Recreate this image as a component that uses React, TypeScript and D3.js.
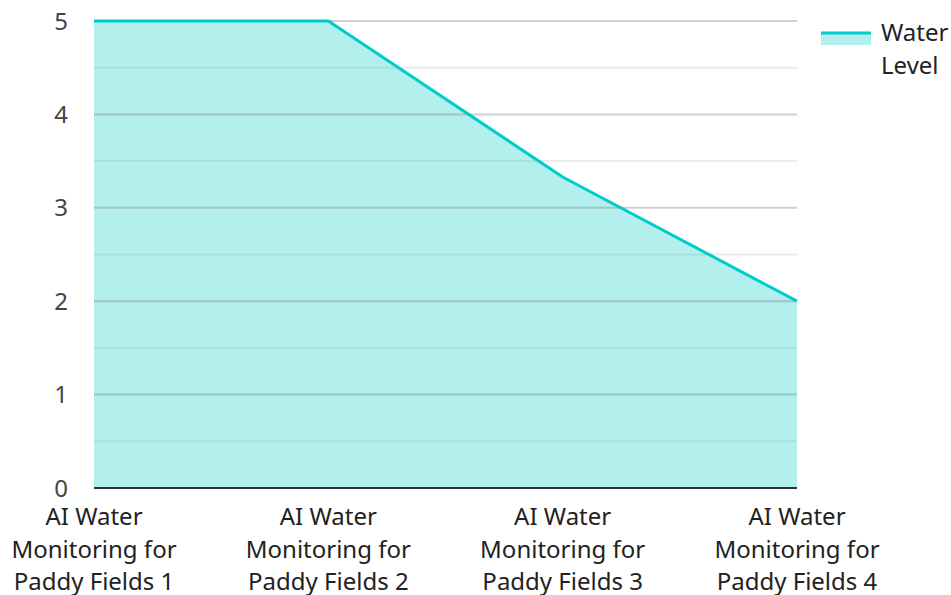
import React from "react";
import * as d3 from "d3";

const categories = [
  "AI Water Monitoring for Paddy Fields 1",
  "AI Water Monitoring for Paddy Fields 2",
  "AI Water Monitoring for Paddy Fields 3",
  "AI Water Monitoring for Paddy Fields 4",
];
const categoryLines = [
  ["AI Water", "Monitoring for", "Paddy Fields 1"],
  ["AI Water", "Monitoring for", "Paddy Fields 2"],
  ["AI Water", "Monitoring for", "Paddy Fields 3"],
  ["AI Water", "Monitoring for", "Paddy Fields 4"],
];
const waterLevel = [5, 5, 3.33, 2];
const yTicks = [0, 1, 2, 3, 4, 5];
const yMinorTicks = [0.5, 1.5, 2.5, 3.5, 4.5];
const seriesName = ["Water", "Level"];

const W = 951;
const H = 595;
const left = 94;
const right = 797;
const top = 21;
const bottom = 488;
const font = "'Noto Sans', 'Open Sans', sans-serif";

export default function App() {
  const x = d3.scalePoint<string>().domain(categories).range([left, right]);
  const y = d3.scaleLinear().domain([0, 5]).range([bottom, top]);
  const pts = categories.map((c, i) => ({ c, v: waterLevel[i] }));
  const area = d3
    .area<{ c: string; v: number }>()
    .x((d) => x(d.c)!)
    .y0(y(0))
    .y1((d) => y(d.v));
  const line = d3
    .line<{ c: string; v: number }>()
    .x((d) => x(d.c)!)
    .y((d) => y(d.v));

  return (
    <svg
      width={W}
      height={H}
      style={{ position: "absolute", left: 0, top: 0, background: "#fff" }}
      fontFamily={font}
    >
      <path d={area(pts)!} fill="#b2efed" />
      {yMinorTicks.map((t) => (
        <line key={"m" + t} x1={left} x2={right} y1={y(t)} y2={y(t)} stroke="#999" strokeOpacity={0.2} strokeWidth={2} />
      ))}
      {yTicks.filter((t) => t > 0).map((t) => (
        <line key={"g" + t} x1={left} x2={right} y1={y(t)} y2={y(t)} stroke="#888" strokeOpacity={0.4} strokeWidth={2} />
      ))}
      <path d={line(pts)!} fill="none" stroke="#00cccc" strokeWidth={3} strokeLinejoin="round" />
      <line x1={left} x2={right} y1={bottom} y2={bottom} stroke="#333" strokeWidth={2} />
      {yTicks.map((t) => (
        <text key={"t" + t} x={68} y={y(t)} dy="0.36em" textAnchor="end" fontSize={24} fill="#444">
          {t}
        </text>
      ))}
      {categories.map((c, i) => (
        <text key={c} x={x(c)!} textAnchor="middle" fontSize={24} fill="#222">
          {categoryLines[i].map((l, j) => (
            <tspan key={j} x={x(c)!} y={525 + j * 32.5}>
              {l}
            </tspan>
          ))}
        </text>
      ))}
      <rect x={821} y={33} width={50} height={12} fill="#b2efed" />
      <line x1={821} x2={871} y1={33} y2={33} stroke="#00cccc" strokeWidth={3} />
      <text fontSize={24} fill="#222">
        {seriesName.map((s, j) => (
          <tspan key={j} x={881} y={41 + j * 33}>
            {s}
          </tspan>
        ))}
      </text>
    </svg>
  );
}
